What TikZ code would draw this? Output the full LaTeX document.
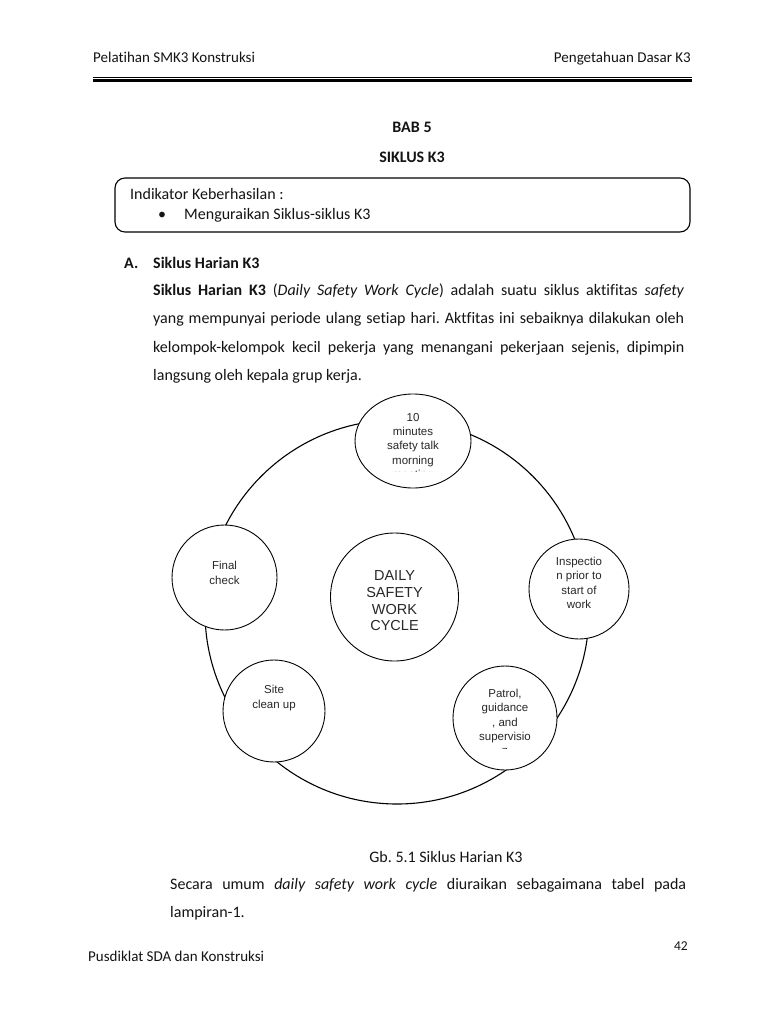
\documentclass[tikz,border=0pt]{standalone}
\usepackage{fontspec}
\setmainfont{Carlito}[Ligatures=NoCommon]
\newfontfamily\diagfont{Liberation Sans}
\definecolor{pageink}{RGB}{20, 20, 20}
\definecolor{cycleink}{RGB}{40, 40, 40}
\usepackage{tikz}
\usetikzlibrary{shapes.geometric, backgrounds}
\frenchspacing

\tikzset{
  stage/.style={circle, draw=black, line width=0.9pt, fill=white,
                inner sep=0pt},
  stagetext/.style={font=\diagfont\fontsize{11.5}{14.3}\selectfont,
                    text=cycleink, align=center, inner sep=0pt},
  bodyline/.style={anchor=base west, inner sep=0pt, text=pageink,
                   font=\fontsize{16}{18}\selectfont},
  headline/.style={anchor=base, inner sep=0pt, text=pageink,
                   font=\bfseries\fontsize{16}{18}\selectfont},
}

\begin{document}
\begin{tikzpicture}[x=1pt, y=-1pt]
  \useasboundingbox[fill=white] (0,0) rectangle (768,1024);

  % page header
  \node[bodyline, font=\fontsize{15}{17}\selectfont] (hdrleft) at (93,63)
        {Pelatihan SMK3 Konstruksi};
  \node[bodyline, anchor=base east, font=\fontsize{15}{17}\selectfont]
        (hdrright) at (691,63) {Pengetahuan Dasar K3};
  \draw[line width=0.9pt] (93,77) -- (692,77);
  \draw[line width=2.8pt] (93,80.5) -- (692,80.5);

  % chapter title
  \node[headline] (bab) at (412,133) {BAB 5};
  \node[headline] (siklus) at (412,163) {SIKLUS K3};

  % indikator box
  \draw[rounded corners=10pt, line width=1.1pt] (115,178) rectangle (690,232);
  \node[bodyline] (indikator) at (130,200) {Indikator Keberhasilan :};
  \node[bodyline, anchor=base] (bullet) at (162,219) {\textbullet};
  \node[bodyline] (urai) at (184,219) {Menguraikan Siklus-siklus K3};

  % section A
  \node[bodyline, font=\bfseries\fontsize{16}{18}\selectfont] (secA)
        at (124,268) {A.};
  \node[bodyline, font=\bfseries\fontsize{16}{18}\selectfont] (secAtitle)
        at (153,268) {Siklus Harian K3};
  \foreach \y/\txt [count=\i] in {
      295/{\textbf{Siklus Harian K3} (\textit{Daily Safety Work Cycle}) adalah suatu siklus aktifitas \textit{safety}},
      323/{yang mempunyai periode ulang setiap hari. Aktfitas ini sebaiknya dilakukan oleh},
      352/{kelompok-kelompok kecil pekerja yang menangani pekerjaan sejenis, dipimpin}} {
    \node[bodyline] (par\i) at (153,\y) {\hbox to 531pt{\txt}};
  }
  \node[bodyline] (par4) at (153,380) {langsung oleh kepala grup kerja.};

  % the cycle
  \draw[line width=1.1pt] (397,612) circle (192);
  \node[stage, ellipse, minimum width=116, minimum height=94] (talk)
        at (413,441) {};
  \node[stage, minimum size=128] (cycle) at (394.5,597) {};
  \node[stage, minimum size=105] (final) at (224.5,577.5) {};
  \node[stage, minimum size=100] (inspect) at (579,589) {};
  \node[stage, minimum size=102] (cleanup) at (274,711) {};
  \node[stage, minimum size=104] (patrol) at (505,718) {};

  % cut-off last lines
  \begin{scope}
    \clip (360,400) rectangle (466,471.5);
    \node[stagetext] (talktxt) at (413,447)
          {10\\minutes\\safety talk\\morning\\meeting};
  \end{scope}
  \begin{scope}
    \clip (455,675) rectangle (555,748);
    \node[stagetext] (patroltxt) at (505,722)
          {Patrol,\\guidance\\, and\\supervisio\\n};
  \end{scope}
  \node[stagetext, font=\diagfont\fontsize{14.5}{16.7}\selectfont]
        (cycletxt) at (394.5,601) {DAILY\\SAFETY\\WORK\\CYCLE};
  \node[stagetext] (finaltxt) at (224.5,573) {Final\\check};
  \node[stagetext] (inspecttxt) at (579,583) {Inspectio\\n prior to\\start of\\work};
  \node[stagetext] (cleanuptxt) at (274,698) {Site\\clean up};

  % caption and closing text
  \node[bodyline, anchor=base] (caption) at (446,862) {Gb. 5.1 Siklus Harian K3};
  \node[bodyline] (close1) at (170,889)
        {\hbox to 516pt{Secara umum \textit{daily safety work cycle} diuraikan sebagaimana tabel pada}};
  \node[bodyline] (close2) at (170,917) {lampiran-1.};

  % page footer
  \node[bodyline, font=\fontsize{15}{17}\selectfont] (footer) at (88,961)
        {Pusdiklat SDA dan Konstruksi};
  \node[bodyline, anchor=base east, font=\fontsize{13.5}{15}\selectfont]
        (pageno) at (688,950) {42};
\end{tikzpicture}
\end{document}
